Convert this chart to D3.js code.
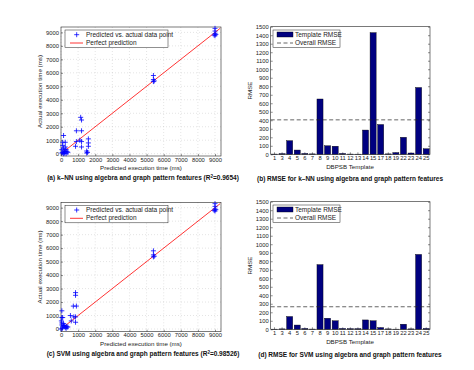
<!DOCTYPE html>
<html>
<head>
<style>
  body { margin: 0; background: #fff; }
  svg { font-family: "Liberation Sans", Arial, sans-serif; }
  .tick text { font-size: 5.8px; fill: #222; }
  .title { font-size: 6.5px; font-weight: bold; fill: #111; }
  .lab { font-size: 6.2px; fill: #222; }
</style>
</head>
<body>
<svg id="chart" width="474" height="370"></svg>
<script src="https://cdn.jsdelivr.net/npm/d3@7"></script>
<script>
// scatter: [predicted, actual] in ms
const knnPoints = [
  [150,1350],[100,850],[250,850],[100,600],[50,300],[100,100],[150,0],[200,200],
  [250,150],[300,300],[50,50],[200,50],[300,0],[350,150],[400,100],[150,400],[250,500],
  [900,1700],[1200,1700],[900,900],[1200,900],[1100,1000],[1150,2700],[1200,2500],
  [850,550],[1200,500],[1600,1100],[1600,800],[1600,550],[1500,200],[1500,50],[1550,100],
  [5400,5800],[5400,5500],[5450,5400],[5400,5350],
  [9000,9300],[9000,9100],[9000,8900],[9050,8850],[8950,8800],[9000,8750]
];
const svmPoints = [
  [50,1350],[50,850],[100,850],[20,600],[50,300],[100,150],[0,0],[80,50],[150,250],
  [200,250],[300,200],[350,150],[250,100],[150,400],[50,450],[300,50],[400,150],
  [850,2700],[850,2500],[720,1700],[900,1700],[550,1000],[750,900],[850,900],
  [600,600],[850,500],
  [5400,5800],[5400,5500],[5450,5400],[5400,5350],
  [9000,9300],[9000,9100],[9000,8900],[9050,8850],[8950,8800],[9000,8750]
];
const scatterTicks = [0,1000,2000,3000,4000,5000,6000,7000,8000,9000];

// bar charts
const templates = ["1","3","4","5","6","7","8","9","10","11","12","13","14","15","17","18","19","22","23","24","25"];
const knnRmse = [3,8,160,50,10,5,650,100,95,10,3,2,285,1430,350,5,20,200,15,785,65];
const svmRmse = [2,5,150,50,10,3,760,130,100,10,8,8,110,100,20,5,2,60,5,880,10];
const knnOverall = 405;
const svmOverall = 265;
const rmseTicks = d3.range(0, 1501, 100);

const svg = d3.select("#chart");

function scatterPanel(pts, top, bottom, yDom, title, r2, titleY) {
  const x = d3.scaleLinear().domain([0, 9350]).range([61, 221]);
  const y = d3.scaleLinear().domain(yDom).range([bottom, top]);
  const g = svg.append("g");

  // dotted grid
  g.selectAll(".gx").data(scatterTicks).enter().append("line")
    .attr("x1", d => x(d)).attr("x2", d => x(d)).attr("y1", top).attr("y2", bottom)
    .attr("stroke", "#bbb").attr("stroke-width", 0.4).attr("stroke-dasharray", "1,2");
  g.selectAll(".gy").data(scatterTicks).enter().append("line")
    .attr("x1", 61).attr("x2", 221).attr("y1", d => y(d)).attr("y2", d => y(d))
    .attr("stroke", "#bbb").attr("stroke-width", 0.4).attr("stroke-dasharray", "1,2");

  g.append("g").attr("transform", `translate(0,${bottom})`)
    .call(d3.axisBottom(x).tickValues(scatterTicks).tickSize(-2).tickPadding(1.5).tickFormat(d3.format("d")))
    .call(a => a.select(".domain").remove());
  g.append("g").attr("transform", "translate(61,0)")
    .call(d3.axisLeft(y).tickValues(scatterTicks).tickSize(-2).tickPadding(2).tickFormat(d3.format("d")))
    .call(a => a.select(".domain").remove());
  g.selectAll(".tick line").attr("stroke", "#222").attr("stroke-width", 0.5);

  g.append("rect").attr("x", 61).attr("y", top).attr("width", 160).attr("height", bottom - top)
    .attr("fill", "none").attr("stroke", "#222").attr("stroke-width", 0.6);

  // perfect prediction
  g.append("line").attr("x1", x(0)).attr("y1", y(0)).attr("x2", x(9300)).attr("y2", y(9300))
    .attr("stroke", "#f00").attr("stroke-width", 0.8);

  g.selectAll(".pt").data(pts).enter().append("path")
    .attr("d", d => `M${x(d[0]) - 2.5},${y(d[1])}h5M${x(d[0])},${y(d[1]) - 2.5}v5`)
    .attr("stroke", "#00f").attr("stroke-width", 0.8).attr("fill", "none");

  // legend
  const ly = top + 3;
  g.append("rect").attr("x", 65).attr("y", ly).attr("width", 103).attr("height", 17.5)
    .attr("fill", "#fff").attr("stroke", "#222").attr("stroke-width", 0.5);
  g.append("path").attr("d", `M${74.2},${ly + 4.7}h5M${76.7},${ly + 2.2}v5`)
    .attr("stroke", "#00f").attr("stroke-width", 0.8);
  g.append("text").attr("class", "lab").attr("x", 86).attr("y", ly + 6.8).style("font-size", "6.5px")
    .text("Predicted vs. actual data point");
  g.append("line").attr("x1", 70).attr("x2", 83).attr("y1", ly + 13).attr("y2", ly + 13)
    .attr("stroke", "#f00").attr("stroke-width", 0.8);
  g.append("text").attr("class", "lab").attr("x", 86).attr("y", ly + 15).style("font-size", "6.5px")
    .text("Perfect prediction");

  g.append("text").attr("class", "lab").attr("x", 141).attr("y", bottom + 14.3)
    .attr("text-anchor", "middle").text("Predicted execution time (ms)");
  g.append("text").attr("class", "lab")
    .attr("transform", `translate(42,${(top + bottom) / 2}) rotate(-90)`)
    .attr("text-anchor", "middle").text("Actual execution time (ms)");

  const t = g.append("text").attr("class", "title").attr("x", 143).attr("y", titleY)
    .attr("text-anchor", "middle");
  t.append("tspan").text(title + " (R");
  t.append("tspan").attr("dy", -2).style("font-size", "4.5px").text("2");
  t.append("tspan").attr("dy", 2).text("=" + r2 + ")");
}

function barPanel(vals, overall, top, bottom, title, titleY) {
  const x = d3.scaleBand().domain(templates).range([270.7, 430]).paddingInner(0.2).paddingOuter(0.1);
  const y = d3.scaleLinear().domain([0, 1500]).range([bottom, top]);
  const g = svg.append("g");

  g.append("g").attr("transform", `translate(0,${bottom})`)
    .call(d3.axisBottom(x).tickSize(-2).tickPadding(1.5))
    .call(a => a.select(".domain").remove());
  g.append("g").attr("transform", "translate(270.7,0)")
    .call(d3.axisLeft(y).tickValues(rmseTicks).tickSize(-2).tickPadding(2).tickFormat(d3.format("d")))
    .call(a => a.select(".domain").remove());
  g.append("g").attr("transform", "translate(430,0)")
    .call(d3.axisRight(y).tickValues(rmseTicks).tickSize(-2).tickFormat(""))
    .call(a => a.select(".domain").remove());
  g.selectAll(".tick line").attr("stroke", "#222").attr("stroke-width", 0.5);

  g.selectAll(".bar").data(vals).enter().append("rect")
    .attr("x", (d, i) => x(templates[i]))
    .attr("width", x.bandwidth())
    .attr("y", d => y(d))
    .attr("height", d => bottom - y(d))
    .attr("fill", "#000080").attr("stroke", "#000").attr("stroke-width", 0.4);

  g.append("line").attr("x1", 270.7).attr("x2", 430).attr("y1", y(overall)).attr("y2", y(overall))
    .attr("stroke", "#222").attr("stroke-width", 0.7).attr("stroke-dasharray", "4,2.5");

  g.append("rect").attr("x", 270.7).attr("y", top).attr("width", 159.3).attr("height", bottom - top)
    .attr("fill", "none").attr("stroke", "#222").attr("stroke-width", 0.6);

  // legend
  const ly = top + 3.3;
  g.append("rect").attr("x", 273).attr("y", ly).attr("width", 67).attr("height", 17.5)
    .attr("fill", "#fff").attr("stroke", "#222").attr("stroke-width", 0.5);
  g.append("rect").attr("x", 277).attr("y", ly + 2).attr("width", 16).attr("height", 5)
    .attr("fill", "#000080").attr("stroke", "#000").attr("stroke-width", 0.4);
  g.append("text").attr("class", "lab").attr("x", 295).attr("y", ly + 6.8).style("font-size", "6.5px")
    .text("Template RMSE");
  g.append("line").attr("x1", 277).attr("x2", 293).attr("y1", ly + 13).attr("y2", ly + 13)
    .attr("stroke", "#222").attr("stroke-width", 0.7).attr("stroke-dasharray", "4,2.5");
  g.append("text").attr("class", "lab").attr("x", 295).attr("y", ly + 15).style("font-size", "6.5px")
    .text("Overall RMSE");

  g.append("text").attr("class", "lab").attr("x", 350).attr("y", bottom + 14.3)
    .attr("text-anchor", "middle").text("DBPSB Template");
  g.append("text").attr("class", "lab")
    .attr("transform", `translate(252,${(top + bottom) / 2}) rotate(-90)`)
    .attr("text-anchor", "middle").text("RMSE");

  g.append("text").attr("class", "title").attr("x", 350).attr("y", titleY)
    .attr("text-anchor", "middle").text(title);
}

scatterPanel(knnPoints, 27, 156, [-170, 9400], "(a) k\u2013NN using algebra and graph pattern features", "0.9654", 180);
scatterPanel(svmPoints, 202.3, 331.7, [-200, 9400], "(c) SVM using algebra and graph pattern features", "0.98526", 356);
barPanel(knnRmse, knnOverall, 26.7, 154.3, "(b) RMSE for k\u2013NN using algebra and graph pattern features", 181);
barPanel(svmRmse, svmOverall, 201.7, 329.3, "(d) RMSE for SVM using algebra and graph pattern features", 357);
</script>
</body>
</html>
